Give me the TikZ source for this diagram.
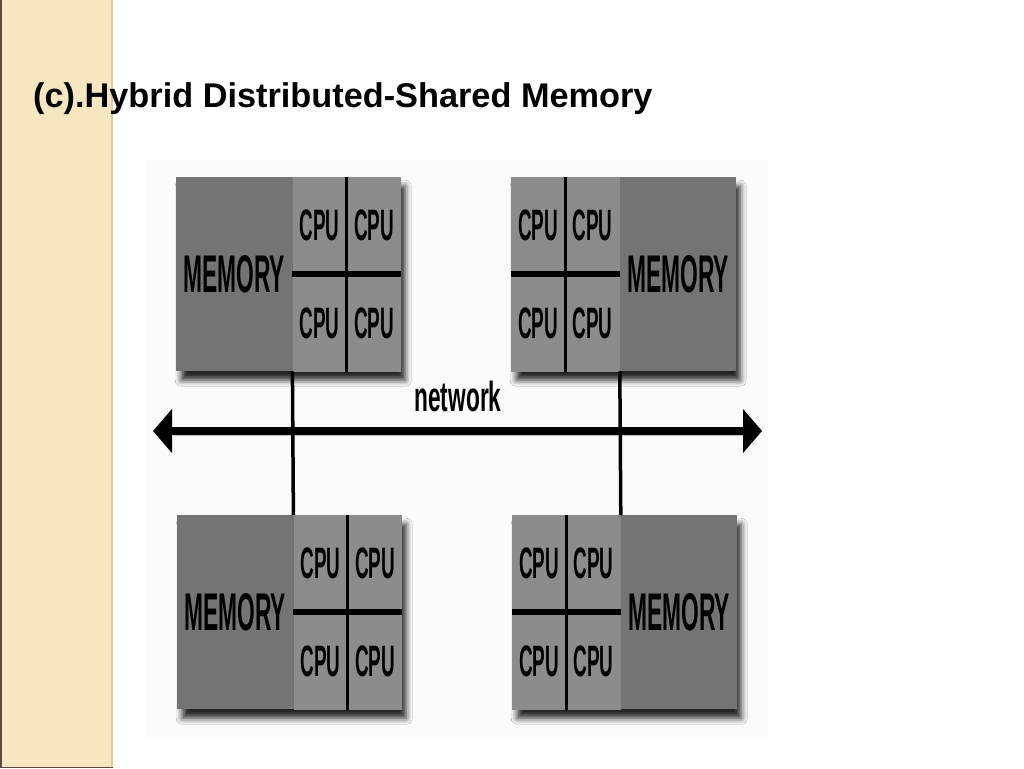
\documentclass[tikz,border=0pt]{standalone}
\usepackage{fontspec}
\setmainfont{Liberation Sans}
\newfontfamily\boxfont[FakeStretch=0.43]{Liberation Sans}
\newfontfamily\netfont[FakeStretch=0.54]{Liberation Sans}
\usepackage{tikz}
\usetikzlibrary{positioning,arrows.meta,shadows.blur}
\definecolor{stripbeige}{RGB}{246,231,193}
\definecolor{stripedge}{RGB}{220,204,166}
\definecolor{stripdark}{RGB}{90,76,60}
\definecolor{panelgray}{RGB}{251,251,251}
\definecolor{memgray}{RGB}{116,116,116}
\definecolor{cpugray}{RGB}{140,140,140}

\begin{document}
\begin{tikzpicture}
[x=1pt,y=-1pt]
\tikzset{
	block/.style = {rectangle, inner sep=0, minimum width=224pt, minimum height=194pt, anchor=north west, fill=memgray,
		blur shadow={shadow xshift=5pt, shadow yshift=-9pt, shadow blur radius=6pt, shadow opacity=85}},
	memory/.style = {rectangle, inner sep=0, minimum width=116pt, minimum height=194pt, fill=memgray,
		font=\boxfont\bfseries\fontsize{53}{53}\selectfont},
	cpu/.style = {rectangle, inner sep=0, minimum width=54pt, minimum height=97pt, fill=cpugray,
		font=\boxfont\bfseries\fontsize{44}{44}\selectfont},
	vdiv/.style = {line width=3pt},
	hdiv/.style = {line width=6pt},
	link/.style = {line width=3.5pt},
	bus/.style = {line width=8pt, {Triangle[length=19pt,width=43pt]}-{Triangle[length=19pt,width=43pt]}}
}
\useasboundingbox (0,0) rectangle (1024,768);

\fill[stripbeige] (0,0) rectangle (113,768);
\draw[stripedge, line width=2pt] (112,0) -- (112,768);
\draw[stripdark, line width=1.5pt] (0.75,0) -- (0.75,768) (0,767.25) -- (113,767.25);
\fill[panelgray] (145,160) rectangle (768,738);

\node[anchor=base west, font=\bfseries\fontsize{34.3}{40}\selectfont, inner sep=0] (title) at (33,107) {(c).Hybrid Distributed-Shared Memory};

\node[block] (blk1) at (176,177) {};
\node[memory, below right=0pt and 0pt of blk1.north west] (mem1) {MEMORY};
\node[cpu, below right=0pt and 0pt of mem1.north east] (cpu1a) {CPU};
\node[cpu, right=0pt of cpu1a] (cpu1b) {CPU};
\node[cpu, below=0pt of cpu1a] (cpu1c) {CPU};
\node[cpu, below=0pt of cpu1b] (cpu1d) {CPU};
\draw[vdiv] (cpu1a.north east) -- (cpu1d.south west);
\draw[hdiv] (cpu1a.south west) -- (cpu1b.south east);

\node[block] (blk2) at (511,177) {};
\node[cpu, below right=0pt and 0pt of blk2.north west] (cpu2a) {CPU};
\node[cpu, right=0pt of cpu2a] (cpu2b) {CPU};
\node[cpu, below=0pt of cpu2a] (cpu2c) {CPU};
\node[cpu, below=0pt of cpu2b] (cpu2d) {CPU};
\node[memory, below right=0pt and 0pt of cpu2b.north east] (mem2) {MEMORY};
\draw[vdiv] (cpu2a.north east) -- (cpu2d.south west);
\draw[hdiv] (cpu2a.south west) -- (cpu2b.south east);

\node[block] (blk3) at (177,515) {};
\node[memory, below right=0pt and 0pt of blk3.north west] (mem3) {MEMORY};
\node[cpu, below right=0pt and 0pt of mem3.north east] (cpu3a) {CPU};
\node[cpu, right=0pt of cpu3a] (cpu3b) {CPU};
\node[cpu, below=0pt of cpu3a] (cpu3c) {CPU};
\node[cpu, below=0pt of cpu3b] (cpu3d) {CPU};
\draw[vdiv] (cpu3a.north east) -- (cpu3d.south west);
\draw[hdiv] (cpu3a.south west) -- (cpu3b.south east);

\node[block] (blk4) at (512,515) {};
\node[cpu, below right=0pt and 0pt of blk4.north west] (cpu4a) {CPU};
\node[cpu, right=0pt of cpu4a] (cpu4b) {CPU};
\node[cpu, below=0pt of cpu4a] (cpu4c) {CPU};
\node[cpu, below=0pt of cpu4b] (cpu4d) {CPU};
\node[memory, below right=0pt and 0pt of cpu4b.north east] (mem4) {MEMORY};
\draw[vdiv] (cpu4a.north east) -- (cpu4d.south west);
\draw[hdiv] (cpu4a.south west) -- (cpu4b.south east);

\draw[link] (mem1.south east) -- (mem3.north east);
\draw[link] (mem2.south west) -- (mem4.north west);

\coordinate (netL) at (153,431);
\coordinate (netR) at (762,431);
\foreach \s/\o in {5/0.10,8/0.08,11/0.05}
	\draw[line width=9pt, black, opacity=\o, yshift=-\s pt] (netL) ++(20,0) -- ([xshift=-18pt]netR);
\draw[bus] (netL) -- (netR);
\node[font=\netfont\bfseries\fontsize{42}{42}\selectfont] (net) at (458,396) {network};
\end{tikzpicture}
\end{document}
